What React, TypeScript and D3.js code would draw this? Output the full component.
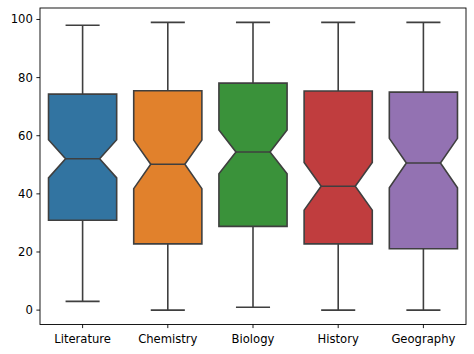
import React from "react";
import * as d3 from "d3";

const categories = ["Literature", "Chemistry", "Biology", "History", "Geography"];
const whiskerLow = [3, 0, 1, 0, 0];
const q1Values = [30.9, 22.8, 28.8, 22.8, 21.1];
const medians = [52.1, 50.2, 54.4, 42.6, 50.6];
const q3Values = [74.3, 75.5, 78.1, 75.4, 75.0];
const whiskerHigh = [98, 99, 99, 99, 99];
const notchLow = [45.5, 41.8, 46.9, 34.4, 42.1];
const notchHigh = [58.6, 58.5, 62.0, 50.8, 59.1];
const colors = ["#3274a1", "#e1812c", "#3a923a", "#c03d3e", "#9372b2"];
const yTicks = [0, 20, 40, 60, 80, 100];

const W = 474;
const H = 354;
const left = 40;
const right = 466;
const top = 8;
const bottom = 324.5;
const font = "DejaVu Sans, sans-serif";
const fs = 11.6;
const lineColor = "#3f3f3f";
const lw = 1.6;

export default function App() {
  const x = d3.scaleBand<string>().domain(categories).range([left, right]).padding(0);
  const y = d3.scaleLinear().domain([-4.95, 103.95]).range([bottom, top]);
  const bw = x.bandwidth() * 0.8;

  return (
    <svg
      width={W}
      height={H}
      style={{ position: "fixed", left: 0, top: 0, background: "#fff" }}
      fontFamily={font}
    >
      <rect x={0} y={0} width={W} height={H} fill="#fff" />
      {categories.map((c, i) => {
        const cx = (x(c) as number) + x.bandwidth() / 2;
        const l = cx - bw / 2;
        const r = cx + bw / 2;
        const inset = bw / 4;
        const pts: [number, number][] = [
          [l, y(q1Values[i])],
          [r, y(q1Values[i])],
          [r, y(notchLow[i])],
          [r - inset, y(medians[i])],
          [r, y(notchHigh[i])],
          [r, y(q3Values[i])],
          [l, y(q3Values[i])],
          [l, y(notchHigh[i])],
          [l + inset, y(medians[i])],
          [l, y(notchLow[i])],
        ];
        const path = d3.line()(pts) + "Z";
        const capHalf = bw / 4;
        return (
          <g key={c}>
            <line x1={cx} x2={cx} y1={y(q1Values[i])} y2={y(whiskerLow[i])} stroke={lineColor} strokeWidth={lw} />
            <line x1={cx} x2={cx} y1={y(q3Values[i])} y2={y(whiskerHigh[i])} stroke={lineColor} strokeWidth={lw} />
            <line x1={cx - capHalf} x2={cx + capHalf} y1={y(whiskerLow[i])} y2={y(whiskerLow[i])} stroke={lineColor} strokeWidth={lw} />
            <line x1={cx - capHalf} x2={cx + capHalf} y1={y(whiskerHigh[i])} y2={y(whiskerHigh[i])} stroke={lineColor} strokeWidth={lw} />
            <path d={path} fill={colors[i]} stroke={lineColor} strokeWidth={lw} strokeLinejoin="miter" />
            <line x1={l + inset} x2={r - inset} y1={y(medians[i])} y2={y(medians[i])} stroke={lineColor} strokeWidth={lw} />
          </g>
        );
      })}
      {/* spines */}
      <rect x={left} y={top} width={right - left} height={bottom - top} fill="none" stroke="#000" strokeWidth={0.9} />
      {/* y ticks */}
      {yTicks.map((t) => (
        <g key={t}>
          <line x1={left - 3.6} x2={left} y1={y(t)} y2={y(t)} stroke="#000" strokeWidth={0.9} />
          <text x={left - 7.2} y={y(t)} textAnchor="end" dominantBaseline="central" fontSize={fs} fill="#000">
            {t}
          </text>
        </g>
      ))}
      {/* x ticks */}
      {categories.map((c) => {
        const cx = (x(c) as number) + x.bandwidth() / 2;
        return (
          <g key={c}>
            <line x1={cx} x2={cx} y1={bottom} y2={bottom + 3.6} stroke="#000" strokeWidth={0.9} />
            <text x={cx} y={343} textAnchor="middle" fontSize={fs} fill="#000">
              {c}
            </text>
          </g>
        );
      })}
    </svg>
  );
}
